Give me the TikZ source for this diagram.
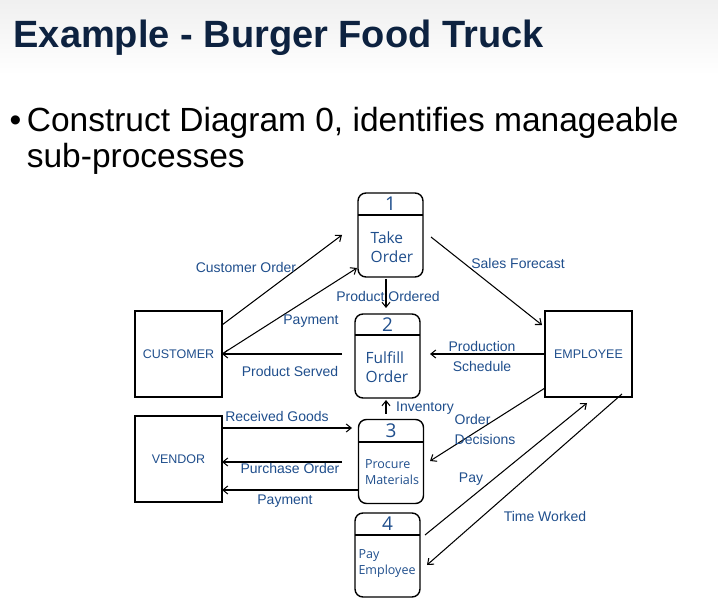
\documentclass[tikz,border=0pt]{standalone}
\usepackage{fontspec}
\setmainfont{Liberation Sans}
\newfontfamily\procfont{Open Sans}
\usetikzlibrary{arrows.meta}
\definecolor{lbl}{HTML}{1F4E8C}
\definecolor{navy}{HTML}{0D2240}
\begin{document}
\begin{tikzpicture}[x=1pt,y=-1pt,
  ent/.style={draw,line width=1.6pt,minimum width=87pt,minimum height=86pt,inner sep=0pt,text=lbl,font=\fontsize{12.5}{14}\selectfont},
  proc/.style={draw,line width=1.4pt,rounded corners=8pt,minimum width=65pt,minimum height=84pt,inner sep=0pt},
  div/.style={line width=1.4pt},
  num/.style={text=lbl,font=\procfont\fontsize{19}{20}\selectfont},
  pname/.style={text=lbl,font=\procfont\fontsize{15.5}{19}\selectfont,align=left},
  pname2/.style={text=lbl,font=\procfont\fontsize{12.5}{16}\selectfont,align=left},
  lab/.style={text=lbl,font=\fontsize{14}{20}\selectfont,align=center,inner sep=1pt},
  fl/.style={-{Straight Barb[length=5pt,width=8pt]},line width=1.05pt}]
\useasboundingbox (0,0) rectangle (718,612);
\shade[top color=gray!12,bottom color=white] (0,0) rectangle (718,75);
\node[anchor=west,text=navy,font=\bfseries\fontsize{38}{40}\selectfont] (title) at (10,38) {Example - Burger Food Truck};
\node[anchor=west,font=\fontsize{33.5}{36}\selectfont,align=left] (bul) at (6,141) {•\,Construct Diagram 0, identifies manageable\\\phantom{•\,}sub-processes};
% processes
\node[proc] (p1) at (390.5,235) {};
\draw[div] (358,215) -- (423,215);
\node[num] (n1) at (390.5,204) {1};
\node[pname] (t1) at (392,247) {Take\\ Order};
\node[proc] (p2) at (387.5,356) {};
\draw[div] (355,335) -- (420,335);
\node[num] (n2) at (387.5,325) {2};
\node[pname] (t2) at (387,367) {Fulfill\\Order};
\node[proc] (p3) at (391,461.5) {};
\draw[div] (358,442) -- (424,442);
\node[num] (n3) at (391,431) {3};
\node[pname2] (t3) at (392,472) {Procure\\Materials};
\node[proc] (p4) at (387.5,555) {};
\draw[div] (355,535) -- (420,535);
\node[num] (n4) at (387.5,524) {4};
\node[pname2,anchor=west] (t4) at (355,564) {Pay\\Employee};
% entities
\node[ent] (cu) at (178.5,354) {CUSTOMER};
\node[ent] (ve) at (178.5,459) {VENDOR};
\node[ent] (em) at (588.5,354) {EMPLOYEE};
% coordinates
\coordinate (a1) at (222,325); \coordinate (a2) at (342,235);
\coordinate (b1) at (222,354); \coordinate (b2) at (357,268);
\coordinate (c1) at (342,354);
\coordinate (d1) at (431,237); \coordinate (d2) at (542,325);
\coordinate (e1) at (386,279); \coordinate (e2) at (386,308);
\coordinate (f1) at (430,354);
\coordinate (g1) at (386,414); \coordinate (g2) at (386,400);
\coordinate (h1) at (545,388); \coordinate (h2) at (430,461);
\coordinate (i1) at (222,428); \coordinate (i2) at (352,428);
\coordinate (j1) at (342,462); \coordinate (j2) at (222,462);
\coordinate (k1) at (358,490); \coordinate (k2) at (222,490);
\coordinate (l1) at (425,535); \coordinate (l2) at (587,403);
\coordinate (m1) at (622,394); \coordinate (m2) at (427,565);
\draw[fl] (a1) -- (a2);
\draw[fl] (b1) -- (b2);
\draw[fl] (c1) -- (b1);
\draw[fl] (d1) -- (d2);
\draw[fl] (e1) -- (e2);
\draw[fl] (em.west) -- (f1);
\draw[fl] (g1) -- (g2);
\draw[fl] (h1) -- (h2);
\draw[fl] (i1) -- (i2);
\draw[fl] (j1) -- (j2);
\draw[fl] (k1) -- (k2);
\draw[fl] (l1) -- (l2);
\draw[fl] (m1) -- (m2);
% labels
\node[lab] (L1) at (246,267) {Customer Order};
\node[lab] (L2) at (311,321) {Payment};
\node[lab] (L3) at (388,296) {Product Ordered};
\node[lab] (L4) at (290,371) {Product Served};
\node[lab] (L5) at (518,263) {Sales Forecast};
\node[lab] (L6) at (482,356) {Production\\Schedule};
\node[lab] (L7) at (425,408) {Inventory};
\node[lab,align=left] (L8) at (485,429) {Order\\ Decisions};
\node[lab] (L9) at (277,416) {Received Goods};
\node[lab] (L10) at (290,468) {Purchase Order};
\node[lab] (L11) at (285,501) {Payment};
\node[lab] (L12) at (471,479) {Pay};
\node[lab] (L13) at (545,516) {Time Worked};
\end{tikzpicture}
\end{document}
